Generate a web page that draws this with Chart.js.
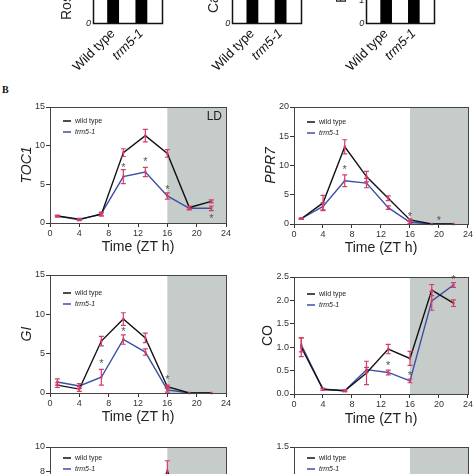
<!DOCTYPE html>
<html>
<head>
<meta charset="utf-8">
<script src="https://cdn.jsdelivr.net/npm/chart.js@4.4.1/dist/chart.umd.min.js"></script>
<style>
  html, body { margin: 0; padding: 0; background: #fff; width: 474px; height: 474px; overflow: hidden; position: relative; }
  canvas { position: absolute; }
  #lblB { position: absolute; left: 2px; top: 84px; font: bold 10px "Liberation Serif", serif; color: #111; }
</style>
</head>
<body>
<div id="lblB">B</div>
<canvas id="bar1"></canvas>
<canvas id="bar2"></canvas>
<canvas id="bar3"></canvas>
<canvas id="toc1"></canvas>
<canvas id="ppr7"></canvas>
<canvas id="gi"></canvas>
<canvas id="co"></canvas>
<canvas id="low1"></canvas>
<canvas id="low2"></canvas>
<script>
// --- dados ---
const zt = [1, 4, 7, 10, 13, 16, 19, 22];
const genotypes = ['Wild type', 'trm5-1'];

const rosette = [2.4, 2.4];
const cauline = [2.5, 2.5];
const bolting = [3.6, 3.6];

const toc1Wt = [0.9, 0.5, 1.1, 9.1, 11.3, 9.0, 2.0, 2.8];
const toc1WtErr = [0.1, 0.1, 0.2, 0.5, 0.8, 0.5, 0.2, 0.2];
const toc1Mut = [0.9, 0.4, 1.2, 6.0, 6.6, 3.5, 1.9, 1.9];
const toc1MutErr = [0.1, 0.1, 0.2, 0.9, 0.6, 0.4, 0.2, 0.3];
const toc1Stars = [[10, 7.4], [13, 8.2], [16, 4.6], [22, 0.8]];

const ppr7Wt = [0.9, 3.6, 13.2, 8.1, 4.4, 0.7, 0.0, 0.0];
const ppr7WtErr = [0.1, 1.3, 1.2, 0.9, 0.4, 0.2, 0, 0];
const ppr7Mut = [0.9, 3.0, 7.4, 7.0, 2.8, 0.3, 0.0, 0.0];
const ppr7MutErr = [0.1, 0.6, 1.0, 0.8, 0.3, 0.2, 0, 0];
const ppr7Stars = [[7, 9.6], [16, 1.7], [20, 1.0]];

const giWt = [1.0, 0.5, 6.6, 9.4, 7.0, 0.8, 0.0, 0.0];
const giWtErr = [0.3, 0.3, 0.6, 0.8, 0.6, 0.2, 0, 0];
const giMut = [1.4, 0.9, 2.0, 6.8, 5.2, 0.4, 0.0, 0.0];
const giMutErr = [0.4, 0.3, 1.0, 0.6, 0.4, 0.3, 0, 0];
const giStars = [[7, 4.0], [10, 8.1], [16, 2.0]];

const coWt = [1.0, 0.1, 0.07, 0.45, 0.96, 0.76, 2.22, 1.94];
const coWtErr = [0.2, 0.02, 0.02, 0.25, 0.1, 0.15, 0.12, 0.07];
const coMut = [1.05, 0.1, 0.07, 0.52, 0.46, 0.28, 1.99, 2.33];
const coMutErr = [0.15, 0.02, 0.02, 0.05, 0.05, 0.04, 0.2, 0.05];
const coStars = [[13, 0.65], [16, 0.44], [22, 2.5]];

const low1Wt = [0.3, 0.2, 0.3, 1.0, 3.5, 8.1, 3.0, 0.8];
const low1WtErr = [0.1, 0.1, 0.1, 0.2, 0.4, 0.8, 0.4, 0.2];
const low1Mut = [0.3, 0.2, 0.3, 0.8, 3.0, 7.0, 2.5, 0.6];
const low1MutErr = [0.1, 0.1, 0.1, 0.2, 0.4, 0.7, 0.4, 0.2];

const low2Wt = [0.2, 0.1, 0.1, 0.2, 0.4, 0.6, 0.5, 0.3];
const low2WtErr = [0.05, 0.03, 0.03, 0.05, 0.08, 0.1, 0.08, 0.05];
const low2Mut = [0.2, 0.1, 0.1, 0.2, 0.3, 0.4, 0.4, 0.3];
const low2MutErr = [0.05, 0.03, 0.03, 0.05, 0.06, 0.08, 0.08, 0.05];

const FONTE = 'Arial, "Liberation Sans", sans-serif';
const AZUL = '#3c4ea8';
const VERMELHO = '#d23c68';
const CINZA_LD = '#c5ccc9';

// desenha fundo escuro (noite), barras de erro, moldura, legenda e asteriscos
const decoPlugin = {
    id: 'deco',
    beforeDatasetsDraw(chart, args, o) {
        if (!o.noite) return;
        const { ctx, chartArea: a, scales: { x } } = chart;
        const x0 = x.getPixelForValue(16);
        ctx.save();
        ctx.fillStyle = CINZA_LD;
        ctx.fillRect(x0, a.top, a.right - x0, a.bottom - a.top);
        ctx.restore();
    },
    afterDatasetsDraw(chart, args, o) {
        const { ctx, chartArea: a, scales: { x, y } } = chart;
        ctx.save();
        if (o.erros) {
            chart.data.datasets.forEach((ds) => {
                const err = ds.err;
                if (!err) return;
                ctx.strokeStyle = VERMELHO;
                ctx.lineWidth = 1.2;
                ds.data.forEach((p, i) => {
                    if (!err[i]) return;
                    const px = x.getPixelForValue(p.x);
                    const y1 = y.getPixelForValue(Math.max(0, p.y - err[i]));
                    const y2 = y.getPixelForValue(p.y + err[i]);
                    ctx.beginPath();
                    ctx.moveTo(px, y1); ctx.lineTo(px, y2);
                    ctx.moveTo(px - 2.5, y1); ctx.lineTo(px + 2.5, y1);
                    ctx.moveTo(px - 2.5, y2); ctx.lineTo(px + 2.5, y2);
                    ctx.stroke();
                });
            });
        }
        if (o.estrelas) {
            ctx.fillStyle = '#555';
            ctx.font = '11px ' + FONTE;
            ctx.textAlign = 'center';
            ctx.textBaseline = 'middle';
            o.estrelas.forEach(([sx, sy]) => {
                ctx.fillText('*', x.getPixelForValue(sx), y.getPixelForValue(sy) + 2.5);
            });
        }
        // moldura
        ctx.strokeStyle = o.corMoldura || '#444';
        ctx.lineWidth = o.larguraMoldura || 1;
        const m = o.margemMoldura || 0;
        ctx.strokeRect(Math.round(a.left - m) + 0.5, Math.round(a.top) + 0.5,
            Math.round(a.right - a.left + 2 * m), Math.round(a.bottom - a.top));
        if (o.legenda) {
            const lx = a.left + 13, ly = a.top + o.legendaY;
            ctx.lineWidth = 1.5;
            ctx.strokeStyle = '#111';
            ctx.beginPath(); ctx.moveTo(lx, ly); ctx.lineTo(lx + 8, ly); ctx.stroke();
            ctx.strokeStyle = AZUL;
            ctx.beginPath(); ctx.moveTo(lx, ly + 11); ctx.lineTo(lx + 8, ly + 11); ctx.stroke();
            ctx.fillStyle = '#222';
            ctx.textAlign = 'left';
            ctx.textBaseline = 'middle';
            ctx.font = '7px ' + FONTE;
            ctx.fillText('wild type', lx + 12, ly);
            ctx.font = 'italic 7px ' + FONTE;
            ctx.fillText('trm5-1', lx + 12, ly + 11);
        }
        if (o.ld) {
            ctx.fillStyle = '#222';
            ctx.font = '12px ' + FONTE;
            ctx.textAlign = 'right';
            ctx.textBaseline = 'middle';
            ctx.fillText('LD', a.right - 4, a.top + 10);
        }
        if (o.rotuloY) {
            ctx.fillStyle = '#222';
            ctx.font = '14px ' + FONTE;
            ctx.textAlign = 'left';
            ctx.textBaseline = 'middle';
            ctx.translate(a.left + o.rotuloY.dx, a.bottom + o.rotuloY.dy);
            ctx.rotate(-Math.PI / 2);
            ctx.fillText(o.rotuloY.texto, 0, 0);
        }
        ctx.restore();
    }
};

function posicionar(id, b) {
    const el = document.getElementById(id);
    el.width = b.w; el.height = b.h;
    el.style.left = b.x + 'px'; el.style.top = b.y + 'px';
    el.style.width = b.w + 'px'; el.style.height = b.h + 'px';
    return el;
}

function painelLinha(id, b, o) {
    const el = posicionar(id, b);
    const serie = (vals) => zt.map((t, i) => ({ x: t, y: vals[i] }));
    const base = { borderWidth: 1.4, pointRadius: 1.6, pointStyle: 'rect', pointBackgroundColor: VERMELHO,
        pointBorderWidth: 0, tension: 0, clip: false };
    return new Chart(el, {
        type: 'line',
        data: {
            datasets: [
                { ...base, label: 'wild type', data: serie(o.wt), err: o.wtErr, borderColor: '#111' },
                { ...base, label: 'trm5-1', data: serie(o.mut), err: o.mutErr, borderColor: AZUL }
            ]
        },
        options: {
            responsive: false, animation: false, devicePixelRatio: 1,
            layout: { padding: { top: o.padTop, right: o.padRight, left: 0, bottom: 0 } },
            plugins: {
                legend: { display: false }, tooltip: { enabled: false },
                deco: { noite: true, erros: true, estrelas: o.estrelas, legenda: true, legendaY: o.legendaY, ld: o.ld }
            },
            scales: {
                x: {
                    type: 'linear', min: 0, max: 24,
                    ticks: { stepSize: 4, font: { size: 9, family: FONTE }, color: '#333', padding: 1, maxRotation: 0 },
                    grid: { drawOnChartArea: false, tickLength: 4, color: '#333' },
                    border: { color: '#333' },
                    title: { display: true, text: 'Time (ZT h)', font: { size: 14, family: FONTE }, color: '#222',
                        padding: { top: 0, bottom: o.xtPad } },
                    afterFit: (s) => { s.height = o.xh; }
                },
                y: {
                    min: 0, max: o.ymax,
                    ticks: { stepSize: o.passo, font: { size: 9, family: FONTE }, color: '#333', padding: 1,
                        callback: o.casas ? (v) => Number(v).toFixed(o.casas) : undefined },
                    grid: { drawOnChartArea: false, tickLength: 4, color: '#333' },
                    border: { color: '#333' },
                    title: { display: !!o.rotulo, text: o.rotulo, color: '#222',
                        font: { size: 14, family: FONTE, style: o.italico ? 'italic' : 'normal' },
                        padding: { top: o.ytPad, bottom: 0 } },
                    afterFit: (s) => { s.width = o.yw; }
                }
            }
        },
        plugins: [decoPlugin]
    });
}

function painelBarra(id, b, o) {
    const el = posicionar(id, b);
    return new Chart(el, {
        type: 'bar',
        data: { labels: genotypes, datasets: [{ data: o.vals, backgroundColor: '#000', barPercentage: 0.42, categoryPercentage: 1 }] },
        options: {
            responsive: false, animation: false, devicePixelRatio: 1,
            layout: { padding: { top: o.padTop, right: o.padRight, left: 0, bottom: 0 } },
            plugins: {
                legend: { display: false }, tooltip: { enabled: false },
                deco: { corMoldura: '#111', larguraMoldura: 1.5, margemMoldura: 6.3, rotuloY: o.rotuloY }
            },
            scales: {
                x: {
                    grid: { display: false, drawTicks: false }, border: { display: false },
                    ticks: { minRotation: 45, maxRotation: 45, padding: 3, color: '#111',
                        font: (c) => ({ size: 13, family: FONTE, style: c.index === 1 ? 'italic' : 'normal' }) },
                    afterFit: (s) => { s.height = o.xh; }
                },
                y: {
                    min: 0, max: o.ymax,
                    ticks: { stepSize: 1, padding: 8, color: '#222', font: { size: 9, family: FONTE, style: 'italic' } },
                    grid: { display: false, drawTicks: false }, border: { display: false },
                    afterFit: (s) => { s.width = o.yw; }
                }
            }
        },
        plugins: [decoPlugin]
    });
}

// --- painel A (parte de baixo visível) ---
painelBarra('bar1', { x: 30, y: -120, w: 140, h: 220 },
    { vals: rosette, ymax: 3, padTop: 40, padRight: 14.5, xh: 77, yw: 69, rotuloY: { texto: 'Rosette diameter (cm)', dx: -32, dy: -3 } });
painelBarra('bar2', { x: 180, y: -120, w: 130, h: 220 },
    { vals: cauline, ymax: 3, padTop: 40, padRight: 15.3, xh: 77, yw: 58.3, rotuloY: { texto: 'Cauline leaves', dx: -24, dy: -10 } });
painelBarra('bar3', { x: 320, y: -120, w: 140, h: 220 },
    { vals: bolting, ymax: 4, padTop: 51, padRight: 32.3, xh: 77, yw: 52.3, rotuloY: { texto: 'Bolting time (d)', dx: -30, dy: -20 } });

// --- painel B ---
painelLinha('toc1', { x: 0, y: 100, w: 236, h: 160 },
    { wt: toc1Wt, wtErr: toc1WtErr, mut: toc1Mut, mutErr: toc1MutErr, estrelas: toc1Stars,
      ymax: 15, passo: 5, padTop: 7, padRight: 10, yw: 50, xh: 37, xtPad: 4.3, ytPad: 19,
      rotulo: 'TOC1', italico: true, legendaY: 14, ld: true });
painelLinha('ppr7', { x: 240, y: 100, w: 234, h: 160 },
    { wt: ppr7Wt, wtErr: ppr7WtErr, mut: ppr7Mut, mutErr: ppr7MutErr, estrelas: ppr7Stars,
      ymax: 20, passo: 5, padTop: 7, padRight: 5, yw: 54, xh: 36, xtPad: 3.3, ytPad: 22.5,
      rotulo: 'PPR7', italico: true, legendaY: 15 });
painelLinha('gi', { x: 0, y: 268, w: 236, h: 162 },
    { wt: giWt, wtErr: giWtErr, mut: giMut, mutErr: giMutErr, estrelas: giStars,
      ymax: 15, passo: 5, padTop: 7, padRight: 10, yw: 50, xh: 37, xtPad: 4.4, ytPad: 19,
      rotulo: 'GI', italico: true, legendaY: 18 });
painelLinha('co', { x: 240, y: 270, w: 234, h: 162 },
    { wt: coWt, wtErr: coWtErr, mut: coMut, mutErr: coMutErr, estrelas: coStars,
      ymax: 2.5, passo: 0.5, casas: 1, padTop: 7, padRight: 5, yw: 54, xh: 38, xtPad: 4.8, ytPad: 19.5,
      rotulo: 'CO', italico: false, legendaY: 17 });
painelLinha('low1', { x: 0, y: 440, w: 236, h: 170 },
    { wt: low1Wt, wtErr: low1WtErr, mut: low1Mut, mutErr: low1MutErr, estrelas: [],
      ymax: 10, passo: 2, padTop: 7, padRight: 10, yw: 50, xh: 38, xtPad: 4.4, ytPad: 19,
      rotulo: 'FT', italico: true, legendaY: 11 });
painelLinha('low2', { x: 240, y: 440, w: 234, h: 170 },
    { wt: low2Wt, wtErr: low2WtErr, mut: low2Mut, mutErr: low2MutErr, estrelas: [],
      ymax: 1.5, passo: 0.5, casas: 1, padTop: 7, padRight: 5, yw: 54, xh: 45, xtPad: 4.4, ytPad: 19.5,
      rotulo: 'SOC1', italico: true, legendaY: 11 });
</script>
</body>
</html>
